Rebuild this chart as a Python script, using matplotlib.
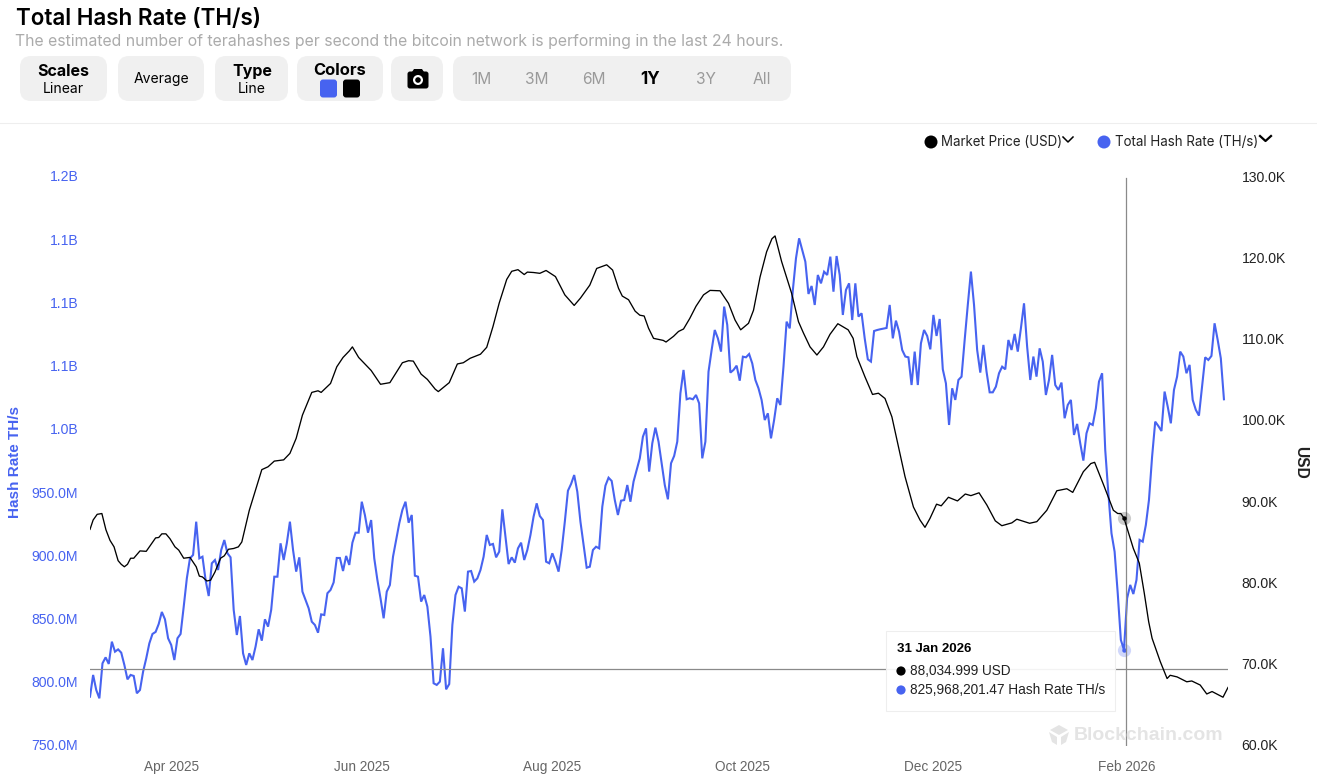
import numpy as np
import matplotlib
matplotlib.use("Agg")
import matplotlib.pyplot as plt
import matplotlib.dates as mdates
from matplotlib.patches import FancyBboxPatch, Circle, Rectangle, Polygon
from matplotlib.transforms import ScaledTranslation
from datetime import datetime, timedelta

START = datetime(2025, 3, 6)
hash_rate_M = [
 789.0,806.2,794.3,787.7,815.4,820.1,814.9,832.5,824.6,826.4,823.8,814.1,802.7,806.2,805.4,791.7,794.3,808.8,819.3,831.2,
 838.6,840.2,846.5,856.0,850.2,835.2,829.9,818.0,835.2,838.6,860.2,882.6,898.4,901.1,927.4,898.4,899.7,881.3,868.6,894.5,
 897.1,889.2,905.0,912.9,902.4,899.2,857.6,837.8,852.8,823.3,814.1,823.3,818.0,828.6,842.3,833.3,850.2,844.4,857.6,883.9,
 883.9,910.3,897.1,910.3,927.4,905.0,887.9,899.2,872.1,865.5,858.9,848.3,845.7,839.6,854.1,853.6,870.8,873.4,879.4,898.7,
 898.7,888.4,900.3,893.2,910.8,918.7,918.7,943.2,932.7,918.7,928.7,898.4,881.3,866.8,851.0,872.1,877.3,899.7,912.9,926.1,
 936.7,943.2,926.6,932.7,884.7,883.9,864.2,869.4,860.2,836.5,799.6,798.3,800.9,827.3,794.8,799.0,845.7,869.4,876.0,874.7,
 856.3,887.9,888.4,880.0,882.6,889.2,899.7,916.9,909.0,909.8,899.2,903.7,937.2,915.6,893.9,899.2,895.0,906.3,910.8,897.1,
 905.0,916.9,931.4,941.9,931.9,928.7,895.8,894.5,902.4,895.8,887.9,905.0,927.4,951.9,957.2,964.3,951.1,927.4,909.0,891.0,
 891.8,905.0,907.6,906.3,939.3,955.9,962.2,959.6,944.5,932.7,944.0,944.5,956.4,943.2,959.1,968.3,977.5,994.6,1001.2,967.0,
 989.4,1001.8,990.7,973.6,956.4,945.1,973.6,979.4,990.7,1028.9,1047.4,1024.2,1025.0,1024.2,1027.6,1021.0,977.5,990.7,1046.0,1063.2,
 1079.0,1072.4,1061.9,1097.5,1083.0,1045.3,1047.4,1050.8,1038.9,1057.9,1057.4,1060.0,1052.6,1039.5,1032.9,1023.6,1007.8,1013.1,993.3,1007.8,
 1025.0,1019.7,1050.0,1085.6,1080.3,1110.6,1135.7,1151.5,1142.3,1133.0,1107.5,1113.8,1098.8,1122.5,1115.9,1125.1,1122.5,1137.0,1109.3,1137.5,
 1122.5,1090.9,1110.7,1115.9,1086.9,1115.9,1089.6,1092.2,1072.4,1055.8,1054.0,1078.2,1079.0,1079.6,1080.1,1080.6,1098.8,1072.4,1086.4,1077.7,
 1063.2,1058.0,1057.4,1035.5,1061.9,1035.5,1068.5,1079.0,1074.3,1063.7,1090.9,1074.3,1087.7,1047.9,1036.8,1003.9,1032.9,1023.7,1039.5,1042.1,
 1071.1,1098.8,1125.2,1098.8,1063.2,1045.3,1067.2,1046.1,1029.7,1029.7,1034.2,1044.8,1050.0,1047.9,1071.1,1063.2,1075.9,1061.9,1080.3,1100.1,
 1065.8,1039.5,1058.0,1042.1,1064.5,1054.0,1027.6,1039.5,1059.3,1035.5,1031.6,1037.4,1009.2,1019.7,1023.7,996.0,1004.7,989.4,975.7,997.3,
 1005.2,1003.9,1017.1,1038.2,1044.8,984.1,949.8,918.2,903.7,870.8,833.9,826.0,866.8,877.4,870.2,881.3,913.0,911.6,924.8,944.6,
 978.8,1006.5,1003.1,999.1,1030.3,1018.4,1005.2,1031.6,1042.1,1061.9,1058.0,1044.8,1051.4,1023.7,1015.8,1011.3,1034.2,1057.4,1055.3,1058.5,
 1084.3,1071.1,1056.6,1024.2,
]
price_days = [
 0,1,2.3,3.8,5.1,6.4,7.7,9,10,11,12,13,14,16,18,21,22,23,24.3,25.6,27.2,28.4,30,32,34,35,36,37.4,38.6,40,41.8,43,44.3,46,
 47.5,48.6,51,55,57,59,62,64,66,68,71,73,74,77,79,81,83,84,86,90,93,96,100,102,103.5,106,108,110.5,111.5,115,117.6,119.5,
 121.7,125,127,129,131,133.4,135,137,139,140,142,144,146,149,152,155,157,160,162.2,165.4,167.3,169.2,170.4,172.4,174.5,176,
 177.4,178.8,180.4,183.5,184.4,186.8,188.4,190,192,194,196.4,198.5,201.7,204.4,206.5,208.3,210.8,212.4,214.5,216.6,218.3,219.3,
 221.4,224.6,226.8,228.4,230.5,232.7,234.8,236.9,239.4,242.7,244.3,245.5,248.1,250.5,252.4,254.5,256.7,258.8,260.9,263.6,265.7,
 267.3,268.9,271,272.5,274.8,277.7,280.2,282,284.6,287.1,289.8,291.9,295.1,296.7,300.8,303.1,306.3,309.5,312.7,314.6,318,320.4,
 321.6,324.5,327.6,329,330,331,334,335.9,337.5,338.9,340,342.6,344.8,345.8,348,351.1,352.7,355.4,357.5,359.2,362.7,364.3,
]
price_K = [
 86.65,87.8,88.5,88.6,86.6,85.3,84.5,82.8,82.35,82.05,82.35,83.1,83.1,84.0,83.95,85.6,85.65,86.1,86.1,85.5,84.5,84.1,83.1,83.2,82.05,80.9,80.8,80.3,80.4,81.4,83.1,83.4,84.2,84.3,
 84.5,85.1,89.0,94.0,94.35,95.05,95.2,96.0,97.85,100.7,103.5,103.7,103.5,104.6,106.65,107.8,108.6,109.1,107.8,106.2,104.5,104.7,107.15,107.4,107.35,105.75,105.1,103.9,103.6,104.7,107.0,107.15,
 107.7,108.2,109.05,111.6,114.5,117.4,118.4,118.6,118.0,118.3,118.25,118.15,118.5,117.75,115.5,114.2,115.1,116.7,118.75,119.2,118.55,116.3,115.35,114.9,113.5,113.0,
 112.9,111.4,110.15,109.9,109.7,110.4,111.0,111.3,112.6,114.1,115.5,116.05,116.0,114.45,112.4,111.2,112.0,113.6,117.7,120.8,122.4,122.75,
 119.6,115.7,112.2,110.8,109.1,108.1,109.1,110.65,111.95,111.2,110.15,107.9,105.4,103.25,103.4,102.75,100.5,96.8,93.15,89.4,87.8,
 86.9,88.0,89.75,89.55,90.6,90.15,91.0,90.8,91.15,89.65,87.7,87.1,87.45,87.9,87.4,87.6,89.0,91.4,91.65,91.2,93.75,94.75,
 94.9,92.1,89.0,88.6,88.6,88.035,84.3,82.5,78.8,75.3,73.25,70.4,68.3,68.7,68.5,67.9,68.0,67.5,66.4,66.7,66.0,67.2,
]
left_ticks_M = [750, 800, 850, 900, 950, 1000, 1050, 1100, 1150, 1200]
left_labels = ["750.0M", "800.0M", "850.0M", "900.0M", "950.0M", "1.0B", "1.1B", "1.1B", "1.1B", "1.2B"]
right_ticks_K = [60, 70, 80, 90, 100, 110, 120, 130]
right_labels = ["60.0K", "70.0K", "80.0K", "90.0K", "100.0K", "110.0K", "120.0K", "130.0K"]
x_tick_dates = [datetime(2025, 4, 1), datetime(2025, 6, 1), datetime(2025, 8, 1), datetime(2025, 10, 1), datetime(2025, 12, 1), datetime(2026, 2, 1)]
x_tick_labels = ["Apr 2025", "Jun 2025", "Aug 2025", "Oct 2025", "Dec 2025", "Feb 2026"]
hover_date = datetime(2026, 1, 31)
hover_hash_M = 825.968
hover_price_K = 88.035
cursor_price_K = 69.5

BLUE = "#4763F0"
SANS = "Liberation Sans"
UI = "Inter"
W, H = 1317, 779

fig = plt.figure(figsize=(W/100, H/100), dpi=100, facecolor="white")
L, R, T, B = 90, 1228, 177, 746
ax = fig.add_axes([L/W, 1-B/H, (R-L)/W, (B-T)/H])
ax2 = ax.twinx()
for a in (ax, ax2):
    for s in a.spines.values():
        s.set_visible(False)
    a.patch.set_visible(False)

x0 = mdates.date2num(START)
ax.plot(x0 + np.arange(len(hash_rate_M)), hash_rate_M, color=BLUE, lw=1.5, solid_joinstyle="miter", zorder=3)
ax2.plot(x0 + np.array(price_days), price_K, color="black", lw=0.95, zorder=3)

ax.set_xlim(x0, x0 + 364.3)
ax.set_ylim(750, 1200)
ax2.set_ylim(60, 130)
ax.set_xticks(mdates.date2num(x_tick_dates))
ax.set_xticklabels(x_tick_labels, family=SANS, fontsize=9.8, color="#666666")
ax.set_yticks(left_ticks_M)
ax.set_yticklabels(left_labels, family=SANS, fontsize=10.1, color=BLUE)
ax2.set_yticks(right_ticks_K)
ax2.set_yticklabels(right_labels, family=SANS, fontsize=10.1, color="#222222")
ax.tick_params(axis="x", length=0, pad=10.2)
ax.tick_params(axis="y", length=0, pad=8.5)
ax2.tick_params(axis="y", length=0, pad=9.7)
nudge = ScaledTranslation(0, 1/100, fig.dpi_scale_trans)
for lab in list(ax.get_yticklabels()) + list(ax2.get_yticklabels()):
    lab.set_transform(lab.get_transform() + nudge)

hx = mdates.date2num(hover_date)
ax2.axvline(hx + 0.5, color="#8a8a8a", lw=0.9, zorder=2, ymax=0.998)
ax2.axhline(cursor_price_K, color="#8a8a8a", lw=0.9, zorder=2)
ax.plot([hx], [hover_hash_M], "o", ms=9.5, color=BLUE, alpha=0.25, mew=0, zorder=4)
ax.plot([hx], [hover_hash_M], "o", ms=3.2, color=BLUE, mew=0, zorder=5)
ax2.plot([hx], [hover_price_K], "o", ms=9.5, color="black", alpha=0.2, mew=0, zorder=4)
ax2.plot([hx], [hover_price_K], "o", ms=3.2, color="black", mew=0, zorder=5)

# page-level overlay in pixel units
ov = fig.add_axes([0, 0, 1, 1], zorder=10)
ov.set_xlim(0, W); ov.set_ylim(H, 0); ov.axis("off"); ov.patch.set_visible(False)

def txt(x, y, s, size, color="black", weight="normal", family=UI, ha="center", **kw):
    return ov.text(x, y, s, fontsize=size*0.72, color=color, weight=weight, family=family, ha=ha, va="center", **kw)

def pill(x0_, x1_, y0_=56, y1_=101, r=11):
    ov.add_patch(FancyBboxPatch((x0_+r, y0_+r), x1_-x0_-2*r, y1_-y0_-2*r,
                 boxstyle=f"round,pad={r},rounding_size={r}", fc="#F0F0F0", ec="none"))

txt(16, 19, "Total Hash Rate (TH/s)", 22.4, weight="semibold", ha="left")
txt(15, 41, "The estimated number of terahashes per second the bitcoin network is performing in the last 24 hours.", 15.8, color="#ABABAB", ha="left")
for a_, b_ in [(20, 107), (118, 204), (215, 288), (297, 383), (391, 443), (453, 791)]:
    pill(a_, b_)
txt(63.5, 71, "Scales", 16, weight="bold")
txt(63.5, 89, "Linear", 14)
txt(161, 79, "Average", 14)
txt(252, 71, "Type", 16, weight="bold")
txt(252, 89, "Line", 14)
txt(340, 70, "Colors", 16.5, weight="bold")
ov.add_patch(FancyBboxPatch((322.5, 82), 12, 13, boxstyle="round,pad=2.5,rounding_size=3", fc=BLUE, ec="none"))
ov.add_patch(FancyBboxPatch((345.5, 82), 12, 13, boxstyle="round,pad=2.5,rounding_size=3", fc="black", ec="none"))
# camera icon
ov.add_patch(FancyBboxPatch((409, 73), 18, 14, boxstyle="round,pad=1.5,rounding_size=2.5", fc="black", ec="none"))
ov.add_patch(Polygon([(412, 72), (414, 69), (422, 69), (424, 72)], fc="black", ec="none"))
ov.add_patch(Circle((418, 80), 5, fc="white", ec="none"))
ov.add_patch(Circle((418, 80), 2.8, fc="black", ec="none"))
for xp, lab in zip([481, 537, 594, 650, 706, 762], ["1M", "3M", "6M", "1Y", "3Y", "All"]):
    if lab == "1Y":
        txt(xp, 79.5, lab, 17, weight="bold")
    else:
        txt(xp, 79.5, lab, 15.5, color="#9A9A9A")
ov.plot([0, W], [123, 123], color="#EEEEEE", lw=0.8)

# legend
ov.add_patch(Circle((931, 142), 6.5, fc="black", ec="none"))
txt(941, 142, "Market Price (USD)", 13.35, color="#222222", ha="left")
ov.plot([1063, 1068, 1073], [137, 142, 137], color="black", lw=1.1)
ov.add_patch(Circle((1104, 142), 6.5, fc=BLUE, ec="none"))
txt(1115, 142, "Total Hash Rate (TH/s)", 13.35, color="#222222", ha="left")
ov.plot([1260, 1265.5, 1271], [136, 141, 136], color="black", lw=1.6)

# axis titles
txt(15.5, 462, "Hash Rate TH/s", 15.2, color=BLUE, family=SANS, weight="bold", rotation=90)
txt(1301, 462, "USD", 15.5, color="#222222", family=SANS, weight="bold", rotation=-90)

# watermark
for pts in ([(1059, 725), (1068, 730), (1059, 735), (1050, 730)],
            [(1049, 732), (1057, 737), (1057, 745), (1052, 742)],
            [(1069, 732), (1061, 737), (1061, 745), (1066, 742)]):
    ov.add_patch(Polygon(pts, fc="#E4E4E4", ec="none", zorder=0.5))
txt(1074, 735, "Blockchain.com", 19.5, color="#E4E4E4", weight="bold", family=SANS, ha="left", zorder=0.5)

# tooltip
ov.add_patch(Rectangle((885.5, 630.5), 229, 80, fc=(1, 1, 1, 0.9), ec="#EEEEEE", lw=0.8))
txt(897, 649, "31 Jan 2026", 13.3, weight="bold", family=SANS, ha="left")
ov.add_patch(Circle((901, 671), 4.6, fc="black", ec="none"))
txt(910, 671, "88,034.999 USD", 13.6, color="#222222", family=SANS, ha="left")
ov.add_patch(Circle((901, 690), 4.6, fc=BLUE, ec="none"))
txt(910, 690, "825,968,201.47 Hash Rate TH/s", 13.6, color="#222222", family=SANS, ha="left")

fig.savefig("out.png", dpi=100)
